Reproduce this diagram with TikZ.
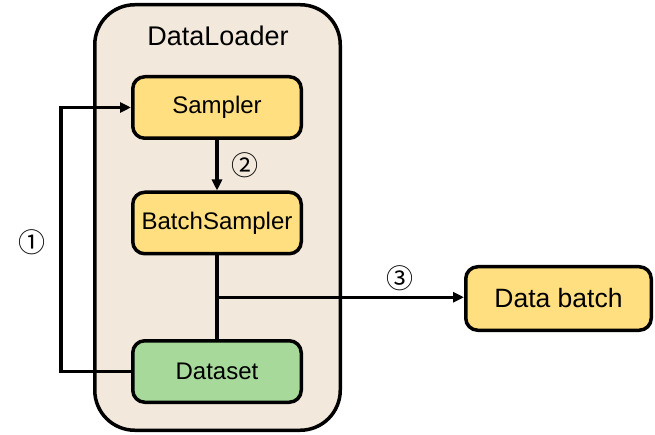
\documentclass[tikz,border=0pt]{standalone}
\usepackage{fontspec}
\setmainfont{Liberation Sans}
\newfontfamily\circfont{Noto Sans CJK SC}
\usetikzlibrary{arrows.meta,calc}
\definecolor{beige}{HTML}{F3E8DC}
\definecolor{boxyellow}{HTML}{FFDF80}
\definecolor{boxgreen}{HTML}{A6D99A}
\tikzset{
  outerbox/.style={draw=black, line width=3.5pt, fill=beige, rounded corners=40pt, minimum width=245.5pt, minimum height=425.5pt, inner sep=0pt},
  stepbox/.style={draw=black, line width=3.5pt, rounded corners=12pt, minimum width=168.5pt, minimum height=61.5pt, inner sep=0pt, font=\fontsize{24}{28}\selectfont},
  conn/.style={line width=3.5pt},
  arr/.style={conn, -{Triangle[length=11pt,width=10pt]}},
  circlab/.style={font=\circfont\fontsize{27}{30}\selectfont, inner sep=0pt}
}
\begin{document}
\begin{tikzpicture}[x=1pt,y=-1pt]
\useasboundingbox (0,0) rectangle (655,435);
\node[outerbox] (dl) at (217.5,217.5) {};
\node[font=\fontsize{27}{32}\selectfont] (dltitle) at (218,36) {DataLoader};
\node[stepbox, fill=boxyellow] (samp) at (217,107.5) {Sampler};
\node[stepbox, fill=boxyellow] (bs) at (217,223) {BatchSampler};
\node[stepbox, fill=boxgreen] (ds) at (217,371.5) {Dataset};
\node[stepbox, fill=boxyellow, minimum width=185.5pt, minimum height=63.5pt, font=\fontsize{26.5}{30}\selectfont] (db) at (558.5,298.5) {Data batch};
\draw[arr] (ds.west) -- ++(-70,0) |- (samp.west);
\draw[arr] (samp.south) -- (bs.north);
\draw[conn] (bs.south) -- (ds.north);
\coordinate (j) at ($(bs.south)!0.5!(ds.north)$);
\draw[arr] (j) -- (j -| db.west);
\node[circlab] (c1) at (32,242) {①};
\node[circlab] (c2) at (245,165) {②};
\node[circlab] (c3) at (400,278) {③};
\end{tikzpicture}
\end{document}
